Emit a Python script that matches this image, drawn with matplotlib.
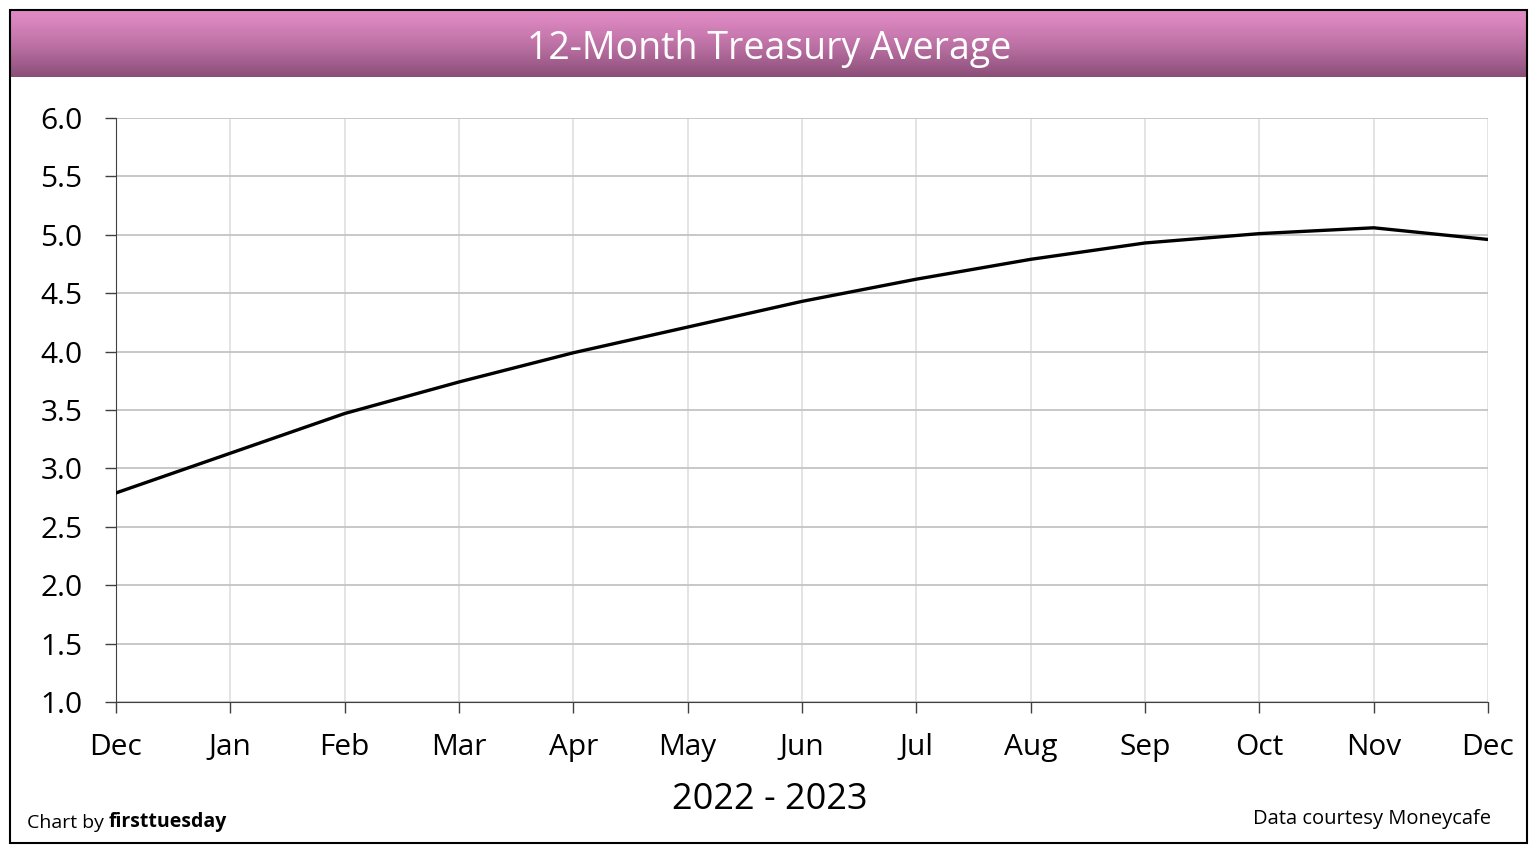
import numpy as np
import matplotlib
matplotlib.use("Agg")
import matplotlib.pyplot as plt
from matplotlib.patches import Rectangle

# Data
months = ["Dec", "Jan", "Feb", "Mar", "Apr", "May", "Jun",
          "Jul", "Aug", "Sep", "Oct", "Nov", "Dec"]
rates = [2.79, 3.13, 3.47, 3.74, 3.99, 4.21, 4.43,
         4.62, 4.79, 4.93, 5.01, 5.06, 4.96]
yticks = [1.0, 1.5, 2.0, 2.5, 3.0, 3.5, 4.0, 4.5, 5.0, 5.5, 6.0]

plt.rcParams['font.family'] = ['Open Sans', 'DejaVu Sans']

W, H = 1536, 852
fig = plt.figure(figsize=(W / 100, H / 100), dpi=100)

# title band with vertical gradient
tax = fig.add_axes([11 / W, 1 - 77 / H, 1516 / W, 66 / H])
top = np.array([0xe0, 0x8a, 0xc4]) / 255
bot = np.array([0x8a, 0x4e, 0x78]) / 255
t = np.linspace(0, 1, 100)[:, None] ** 1.3
grad = (top * (1 - t) + bot * t)[:, None, :]
tax.imshow(grad, aspect="auto", extent=[0, 1, 0, 1])
tax.set_axis_off()
tax.text(0.5, 0.43, "12-Month Treasury Average", color="white",
         fontsize=27, ha="center", va="center", transform=tax.transAxes)

# outer border
fig.patches.append(Rectangle((10 / W, 9 / H), 1517 / W, 833 / H,
                             transform=fig.transFigure, fill=False,
                             edgecolor="black", lw=1.5, zorder=10))

ax = fig.add_axes([116 / W, 1 - 702 / H, 1372 / W, 584 / H])
x = np.arange(len(months))
ax.plot(x, rates, color="black", lw=2.4, zorder=3)

ax.set_xlim(0, len(months) - 1)
ax.set_ylim(1.0, 6.0)
ax.set_yticks(yticks)
ax.set_yticklabels([f"{v:.1f}" for v in yticks])
ax.set_xticks(x)
ax.set_xticklabels(months)
ax.tick_params(axis="both", labelsize=21.5, direction="out", length=8,
               width=1, color="#404040")
ax.tick_params(axis="x", pad=14)
ax.tick_params(axis="y", pad=16)

ax.grid(axis="y", color="#c4c4c4", lw=1.3)
ax.grid(axis="x", color="#dcdcdc", lw=1.1)
ax.set_axisbelow(True)
for s in ["top", "right"]:
    ax.spines[s].set_visible(False)
ax.spines["left"].set_color("#404040")
ax.spines["bottom"].set_color("#404040")

fig.text(770 / W, 1 - 800 / H, "2022 - 2023", fontsize=26,
         ha="center", va="center")

t1 = fig.text(27 / W, 1 - 828 / H, "Chart by ", fontsize=14, va="baseline")
ax.annotate("firsttuesday", xy=(1, 0), xycoords=t1, fontsize=14,
            fontweight="bold", va="bottom", ha="left")
fig.text(1491 / W, 1 - 824 / H, "Data courtesy Moneycafe", fontsize=14.5,
         ha="right", va="baseline")

fig.savefig("out.png", dpi=100)
